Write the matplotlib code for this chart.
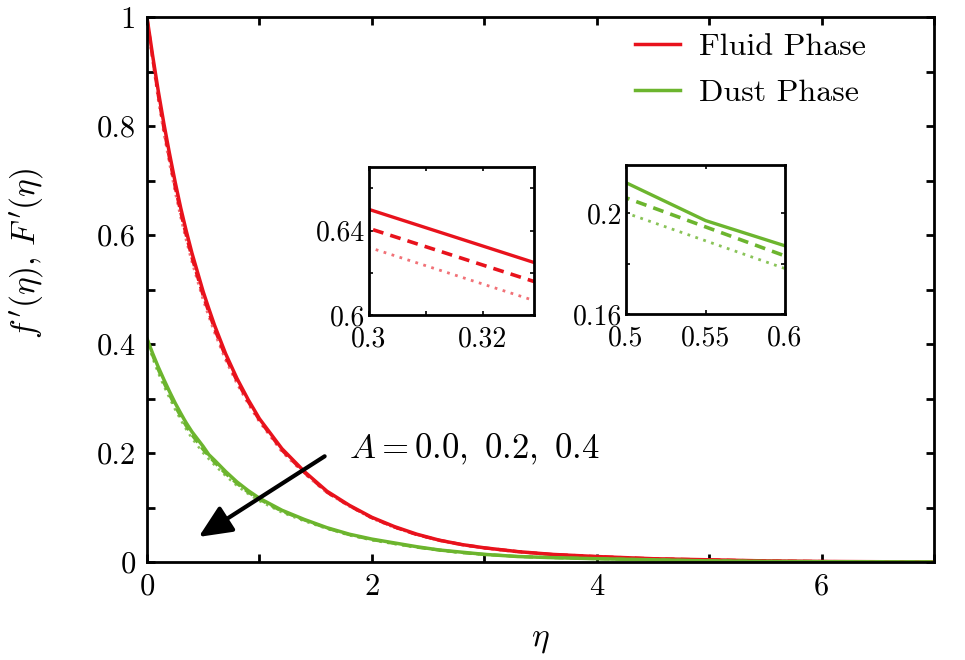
import matplotlib
matplotlib.use("Agg")
import matplotlib.pyplot as plt

plt.rcParams['font.family'] = 'serif'
plt.rcParams['font.serif'] = ['cmr10']
plt.rcParams['mathtext.fontset'] = 'cm'
plt.rcParams['axes.formatter.use_mathtext'] = True

# ---- data ----
eta = [0, 0.05, 0.1, 0.15, 0.2, 0.25, 0.3, 0.33, 0.35, 0.4, 0.5, 0.55, 0.6, 0.7, 0.8, 0.9, 1.0,
       1.2, 1.4, 1.6, 1.8, 2.0, 2.2, 2.4, 2.6, 2.8, 3.0, 3.3, 3.6, 4.0, 4.5, 5.0, 5.5, 6.0, 7.0]

fluid_A00 = [1.0, 0.93, 0.865, 0.805, 0.75, 0.698, 0.65, 0.624, 0.607, 0.567, 0.496, 0.465, 0.435, 0.382,
             0.337, 0.298, 0.263, 0.208, 0.166, 0.130, 0.104, 0.082, 0.065, 0.051, 0.040, 0.032, 0.026,
             0.019, 0.014, 0.010, 0.006, 0.004, 0.002, 0.001, 0.0]
fluid_A02 = [1.0, 0.925, 0.856, 0.795, 0.74, 0.688, 0.641, 0.615, 0.598, 0.558, 0.488, 0.458, 0.428, 0.376,
             0.332, 0.294, 0.260, 0.205, 0.164, 0.128, 0.103, 0.081, 0.064, 0.050, 0.040, 0.032, 0.026,
             0.019, 0.014, 0.010, 0.006, 0.004, 0.002, 0.001, 0.0]
fluid_A04 = [1.0, 0.92, 0.848, 0.786, 0.731, 0.679, 0.632, 0.606, 0.589, 0.55, 0.48, 0.450, 0.421, 0.370,
             0.327, 0.290, 0.257, 0.202, 0.162, 0.127, 0.102, 0.080, 0.063, 0.050, 0.039, 0.031, 0.025,
             0.018, 0.014, 0.010, 0.006, 0.004, 0.002, 0.001, 0.0]

dust_A00 = [0.41, 0.383, 0.358, 0.335, 0.313, 0.292, 0.273, 0.262, 0.255, 0.239, 0.212, 0.197, 0.187, 0.166,
            0.147, 0.131, 0.117, 0.095, 0.078, 0.063, 0.051, 0.042, 0.035, 0.028, 0.022, 0.018, 0.014,
            0.010, 0.008, 0.006, 0.004, 0.002, 0.001, 0.0005, 0.0]
dust_A02 = [0.41, 0.379, 0.353, 0.329, 0.307, 0.286, 0.267, 0.256, 0.249, 0.233, 0.206, 0.1945, 0.183, 0.162,
            0.144, 0.128, 0.115, 0.093, 0.077, 0.062, 0.050, 0.041, 0.034, 0.027, 0.022, 0.017, 0.014,
            0.010, 0.008, 0.006, 0.004, 0.002, 0.001, 0.0005, 0.0]
dust_A04 = [0.41, 0.374, 0.347, 0.323, 0.301, 0.280, 0.261, 0.250, 0.243, 0.227, 0.200, 0.189, 0.178, 0.158,
            0.140, 0.125, 0.112, 0.091, 0.075, 0.061, 0.049, 0.040, 0.033, 0.027, 0.021, 0.017, 0.013,
            0.010, 0.008, 0.006, 0.004, 0.002, 0.001, 0.0005, 0.0]

RED = '#e8121c'
GREEN = '#6cb52e'

fig = plt.figure(figsize=(9.65, 6.6), dpi=100)
ax = fig.add_axes([0.1523, 0.1485, 0.8157, 0.8255])

def draw(a, lw_s=2.5, lw_d=2.2, lw_o=1.8):
    a.plot(eta, fluid_A04, color=RED, lw=lw_o, ls=(0, (1, 2)), alpha=0.6)
    a.plot(eta, fluid_A02, color=RED, lw=lw_d, ls=(0, (3, 2)))
    a.plot(eta, fluid_A00, color=RED, lw=lw_s, ls='-', label='Fluid Phase')
    a.plot(eta, dust_A04, color=GREEN, lw=lw_o, ls=(0, (1, 2)), alpha=0.8)
    a.plot(eta, dust_A02, color=GREEN, lw=lw_d, ls=(0, (3, 2)))
    a.plot(eta, dust_A00, color=GREEN, lw=lw_s, ls='-', label='Dust Phase')

draw(ax)
ax.set_xlim(0, 7)
ax.set_ylim(0, 1)
ax.set_xticks([0, 2, 4, 6])
ax.set_xticklabels(['0', '2', '4', '6'])
ax.set_xticks([1, 3, 5, 7], minor=True)
ax.set_yticks([0, 0.2, 0.4, 0.6, 0.8, 1.0])
ax.set_yticklabels(['0', '0.2', '0.4', '0.6', '0.8', '1'])
ax.set_yticks([0.1, 0.3, 0.5, 0.7, 0.9], minor=True)
ax.tick_params(which='both', direction='in', top=True, right=True, width=2, length=6,
               labelsize=22, pad=8)
for s in ax.spines.values():
    s.set_linewidth(2)

ax.set_xlabel(r'$\eta$', fontsize=24, labelpad=18)
ax.set_ylabel(r"$f\,'(\eta),\,F\,'(\eta)$", fontsize=24)
ax.yaxis.set_label_coords(-0.13, 0.567)

leg = ax.legend(loc='upper right', frameon=False, fontsize=23, handlelength=1.4,
                handletextpad=0.6, labelspacing=0.55, borderaxespad=0.0,
                bbox_to_anchor=(0.93, 0.995))

ax.annotate('', xy=(0.46, 0.046), xytext=(1.58, 0.194),
            arrowprops=dict(arrowstyle='-|>,head_length=1.0,head_width=0.45', color='black',
                            lw=3, mutation_scale=20, shrinkA=0, shrinkB=0))
ax.text(1.80, 0.207, r'$A=0.0,\ 0.2,\ 0.4$', fontsize=25, va='center', ha='left')

# inset 1 (fluid)
ax1 = fig.add_axes([0.3824, 0.5227, 0.171, 0.224])
draw(ax1, 2.4, 2.6, 2.0)
ax1.set_xlim(0.3, 0.329)
ax1.set_ylim(0.6, 0.67)
ax1.set_xticks([0.3, 0.32])
ax1.set_xticklabels(['0.3', '0.32'])
ax1.set_xticks([0.31], minor=True)
ax1.set_yticks([0.6, 0.64])
ax1.set_yticklabels(['0.6', '0.64'])
ax1.set_yticks([0.62, 0.66], minor=True)

# inset 2 (dust)
ax2 = fig.add_axes([0.6487, 0.5242, 0.1648, 0.2258])
draw(ax2, 2.4, 2.6, 2.0)
ax2.set_xlim(0.5, 0.6)
ax2.set_ylim(0.16, 0.219)
ax2.set_xticks([0.5, 0.55, 0.6])
ax2.set_xticklabels(['0.5', '0.55', '0.6'])
ax2.set_yticks([0.16, 0.2])
ax2.set_yticklabels(['0.16', '0.2'])
ax2.set_yticks([0.18], minor=True)

for a in (ax1, ax2):
    a.tick_params(which='both', direction='in', top=True, right=True, width=1.2, length=3,
                  labelsize=20)
    a.tick_params(axis='x', pad=8)
    a.tick_params(axis='y', pad=3)
    for s in a.spines.values():
        s.set_linewidth(2)

fig.savefig('out.png', dpi=100)
